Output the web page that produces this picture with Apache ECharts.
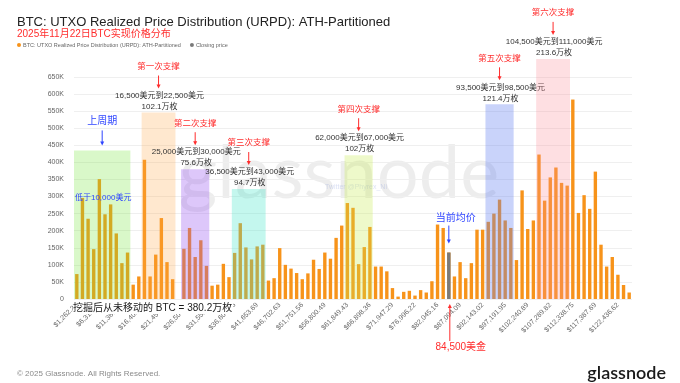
<!DOCTYPE html>
<html><head><meta charset="utf-8">
<script src="https://cdn.jsdelivr.net/npm/echarts@6/dist/echarts.min.js"></script>
<style>html,body{margin:0;padding:0;background:#fff}#c{width:680px;height:383px}</style>
</head><body><div id="c"></div>
<script>
const categories = ['$1,262.23','$2,524.47','$3,786.70','$5,048.93','$6,311.16','$7,573.40','$8,835.63','$10,097.87','$11,360.10','$12,622.33','$13,884.57','$15,146.80','$16,409.03','$17,671.26','$18,933.50','$20,195.73','$21,457.96','$22,720.20','$23,982.43','$25,244.66','$26,506.90','$27,769.13','$29,031.36','$30,293.60','$31,555.83','$32,818.06','$34,080.30','$35,342.53','$36,604.76','$37,866.99','$39,129.23','$40,391.46','$41,653.69','$42,915.93','$44,178.16','$45,440.40','$46,702.63','$47,964.86','$49,227.09','$50,489.33','$51,751.56','$53,013.79','$54,276.03','$55,538.26','$56,800.49','$58,062.73','$59,324.96','$60,587.19','$61,849.43','$63,111.66','$64,373.89','$65,636.13','$66,898.36','$68,160.59','$69,422.83','$70,685.06','$71,947.29','$73,209.53','$74,471.76','$75,733.99','$76,996.22','$78,258.46','$79,520.69','$80,782.92','$82,045.16','$83,307.39','$84,569.62','$85,831.86','$87,094.09','$88,356.32','$89,618.56','$90,880.79','$92,143.02','$93,405.26','$94,667.49','$95,929.72','$97,191.95','$98,454.19','$99,716.42','$100,978.66','$102,240.89','$103,503.12','$104,765.36','$106,027.59','$107,289.82','$108,552.06','$109,814.29','$111,076.52','$112,338.75','$113,600.99','$114,863.22','$116,125.45','$117,387.69','$118,649.92','$119,912.15','$121,174.39','$122,436.62','$123,698.85','$124,961.09'];

const urpdValues = [
 73000,296000,235000,146000,351000,248000,277000,192000,105000,136000,
 42000,66000,408000,66000,130000,237000,108000,58000,0,147000,
 208000,123000,172000,97000,39000,42000,103000,64000,135000,222000,
 151000,116000,154000,159000,54000,61000,149000,100000,89000,76000,
 58000,75000,115000,88000,136000,118000,179000,215000,281000,267000,
 102000,152000,211000,95000,95000,81000,32000,7000,21000,24000,
 10000,26000,19000,52000,218000,208000,136000,66000,108000,61000,
 105000,203000,203000,226000,250000,291000,230000,208000,114000,318000,
 205000,230000,423000,288000,356000,385000,340000,332000,584000,252000,
 304000,264000,373000,159000,95000,123000,71000,41000,19000];

const closingIndex = 66;
const closingValue = 136000;
const closingLabel = '84,500美金';
const closingNote = '当前均价';

const zoneStart = [0, 12, 19, 28, 48, 73, 82];
const zoneEnd   = [9, 17, 23, 33, 52, 77, 87];
const zoneTop   = [435000, 546000, 380000, 322000, 421000, 570000, 703000];
const zoneTitle = ['上周期', '第一次支撑', '第二次支撑', '第三次支撑', '第四次支撑', '第五次支撑', '第六次支撑'];
const zoneRange = ['低于10,000美元', '16,500美元到22,500美元', '25,000美元到30,000美元', '36,500美元到43,000美元', '62,000美元到67,000美元', '93,500美元到98,500美元', '104,500美元到111,000美元'];
const zoneAmount = ['', '102.1万枚', '75.6万枚', '94.7万枚', '102万枚', '121.4万枚', '213.6万枚'];
const zoneFill = ['rgba(120,230,60,0.28)', 'rgba(255,165,70,0.26)', 'rgba(150,80,240,0.32)', 'rgba(60,230,200,0.30)', 'rgba(200,235,80,0.30)', 'rgba(100,130,240,0.35)', 'rgba(250,140,150,0.28)'];

const yTicks = ['0','50K','100K','150K','200K','250K','300K','350K','400K','450K','500K','550K','600K','650K'];

const LAT = "'Liberation Sans','Noto Sans CJK SC',sans-serif";
const RED = '#ff2d2d', BLUE = '#2f45ff';

function arrow(cx, a, b, color) {
  const dir = b > a ? 1 : -1;
  return [
    {type:'line', shape:{x1:cx, y1:a, x2:cx, y2:b - dir*3}, style:{stroke:color, lineWidth:1}},
    {type:'polygon', shape:{points:[[cx-2, b-dir*4],[cx+2, b-dir*4],[cx, b]]}, style:{fill:color}}
  ];
}
function txt(text, x, y, color, size, align) {
  return {type:'text', style:{text:text, x:x, y:y, fill:color, font: size + 'px ' + LAT, align: align || 'center', verticalAlign:'middle'}};
}

const zoneData = zoneStart.map((s, i) => [s, zoneEnd[i], zoneTop[i]]);

const chart = echarts.init(document.getElementById('c'), null, {renderer:'canvas'});
chart.setOption({
  animation: false,
  backgroundColor: '#fff',
  title: [
    {text:'BTC: UTXO Realized Price Distribution (URPD): ATH-Partitioned', left:17, top:16, padding:0,
     textStyle:{fontSize:13, fontWeight:'normal', color:'#222', fontFamily:"'Liberation Sans',sans-serif"}},
    {text:'2025年11月22日BTC实现价格分布', left:17, top:29, padding:0,
     textStyle:{fontSize:10, fontWeight:'normal', color:RED, fontFamily:"'Liberation Sans','Noto Sans CJK SC',sans-serif"}}
  ],
  legend: {
    left:17, top:42, padding:0, itemWidth:4, itemHeight:4, itemGap:9, icon:'circle',
    textStyle:{fontSize:5.5, color:'#666', fontFamily:"'Liberation Sans',sans-serif", padding:[0,0,0,-3]},
    data:['BTC: UTXO Realized Price Distribution (URPD): ATH-Partitioned', 'Closing price']
  },
  grid: {left:74, right:48, top:77, bottom:84},
  xAxis: {
    type:'category', data:categories,
    axisLine:{show:false}, axisTick:{show:false},
    axisLabel:{interval:3, rotate:45, fontSize:7, color:'#666', margin:5, fontFamily:"'Liberation Sans',sans-serif"}
  },
  yAxis: {
    type:'value', min:0, max:650000, interval:50000,
    axisLine:{show:false}, axisTick:{show:false},
    splitLine:{lineStyle:{color:'#efefef', width:1}},
    axisLabel:{fontSize:7, color:'#666', margin:10, fontFamily:"'Liberation Sans',sans-serif",
      formatter:(v) => yTicks[Math.round(v/50000)]}
  },
  graphic: [
    {type:'text', z:0, style:{text:'glassnode', x:339, y:211, font:"400 74px Lato,sans-serif", fill:'rgba(0,0,0,0.07)', align:'center', verticalAlign:'bottom'}},
    {type:'text', z:0, style:{text:'Twitter @Phyrex_Ni', x:356, y:187, font:"7px 'Liberation Sans',sans-serif", fill:'rgba(90,120,210,0.22)', align:'center', verticalAlign:'middle'}},
    {type:'text', z:50, style:{text:'挖掘后从未移动的 BTC = 380.2万枚', x:73, y:308, font:"10px 'Liberation Sans','Noto Sans CJK SC',sans-serif", fill:'#1a1a1a', align:'left', verticalAlign:'middle', backgroundColor:'#fff', padding:[1,1,1,0]}},
    {type:'text', style:{text:'© 2025 Glassnode. All Rights Reserved.', x:17, y:374, font:"8px 'Liberation Sans',sans-serif", fill:'#8a8a8a', align:'left', verticalAlign:'middle'}},
    {type:'text', style:{text:'glassnode', x:666, y:373, font:"600 18px Lato,sans-serif", fill:'#1a1a1a', align:'right', verticalAlign:'middle'}}
  ],
  series: [
    {
      name:'BTC: UTXO Realized Price Distribution (URPD): ATH-Partitioned', type:'bar', z:3,
      data: urpdValues, barWidth:'60%', itemStyle:{color:'#f7931a'}
    },
    {
      name:'Closing price', type:'bar', z:4, barGap:'-100%', barWidth:'60%',
      data: urpdValues.map((v, i) => i === closingIndex ? closingValue : '-'), itemStyle:{color:'#7a7a7a'}
    },
    {
      name:'zones', type:'custom', z:10, clip:false, silent:true,
      data: zoneData,
      renderItem: function (params, api) {
        const i = params.dataIndex;
        const bw = api.size([1, 0])[0];
        const p0 = api.coord([api.value(0), api.value(2)]);
        const p1 = api.coord([api.value(1), 0]);
        const x0 = p0[0] - bw/2, x1 = p1[0] + bw/2, yT = p0[1], yB = p1[1];
        const cx = (x0 + x1) / 2;
        let ch = [{type:'rect', shape:{x:x0, y:yT, width:x1-x0, height:yB-yT}, style:{fill:zoneFill[i]}}];
        if (i === 0) {
          ch.push(txt(zoneTitle[i], cx, yT-29, BLUE, 10));
          ch = ch.concat(arrow(cx, yT-20, yT-5, BLUE));
          ch.push(txt(zoneRange[i], cx+1, yT+47, BLUE, 8));
        } else {
          ch.push(txt(zoneTitle[i], cx, yT-46, RED, 8.5));
          ch = ch.concat(arrow(cx, yT-37, yT-24, RED));
          ch.push(txt(zoneRange[i], cx+1, yT-17, '#333', 8));
          ch.push(txt(zoneAmount[i], cx+1, yT-6, '#333', 8));
        }
        return {type:'group', children:ch};
      }
    },
    {
      name:'closingNote', type:'custom', z:12, clip:false, silent:true,
      data: [[closingIndex, closingValue]],
      renderItem: function (params, api) {
        const p = api.coord([api.value(0), api.value(1)]);
        const p0 = api.coord([api.value(0), 0]);
        let ch = [txt(closingNote, p[0]+7, p[1]-34, BLUE, 10)];
        ch = ch.concat(arrow(p[0], p[1]-27, p[1]-9, BLUE));
        ch = ch.concat(arrow(p0[0]+1, p0[1]+42, p0[1]+5, RED));
        ch.push(txt(closingLabel, p0[0]+12, p0[1]+48, RED, 10));
        return {type:'group', children:ch};
      }
    }
  ]
});
</script></body></html>
